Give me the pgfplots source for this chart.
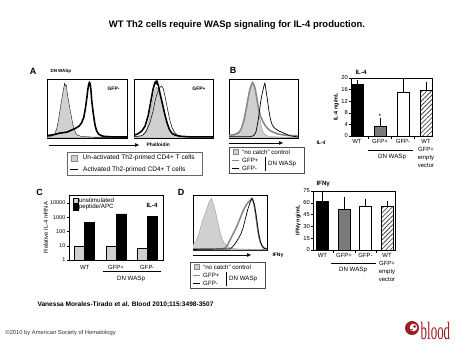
\documentclass[border=0pt]{standalone}
\usepackage{fontspec}
\setmainfont{Liberation Sans}
\newfontfamily\seriffont{Liberation Serif}
\usepackage{pgfplots}
\pgfplotsset{compat=1.18}
\usetikzlibrary{patterns,patterns.meta,arrows.meta}
\definecolor{hgray}{HTML}{D0D0D0}
\definecolor{lgray}{HTML}{8A8A8A}
\definecolor{bgray}{HTML}{7A7A7A}
\definecolor{bloodred}{HTML}{9E1B22}
\newcommand\fs[1]{\fontsize{#1}{#1}\selectfont}
\pgfplotsset{
 hist/.style={scale only axis, anchor=north west, xmin=0,xmax=100,ymin=0,ymax=100,
   xtick=\empty, ytick=\empty, axis line style={line width=0.6bp}, clip=true},
 fillh/.style={fill=hgray, draw=lgray, line width=0.3bp},
 barax/.style={scale only axis, anchor=north west, ybar, bar width=12bp,
   axis line style={line width=0.5bp}, tick style={black, line width=0.4bp},
   major tick length=2bp, minor tick length=2.5bp, tick align=outside,
   xtick pos=bottom, ytick pos=left, xtick={0,1,2,3}, minor xtick={0.5,1.5,2.5},
   major x tick style={draw=none},
   tick label style={font=\fs{5.8}}, yticklabel style={inner sep=1bp},
   xticklabel style={align=center, font=\fontsize{6}{7.9}\selectfont, inner sep=1.5bp},
   /pgf/number format/assume math mode=true, clip=false,
   ylabel style={font=\fs{5.5}\bfseries, yshift=-2bp}},
 ebar/.style={bar shift=0pt, draw=black, line width=0.5bp,
   error bars/y dir=plus, error bars/y explicit,
   error bars/error bar style={line width=0.5bp, black, solid},
   error bars/error mark options={line width=0.5bp, mark size=2.5bp, black, solid}},
 hatch/.style={pattern={Lines[angle=45, distance=3.2bp, line width=0.8bp]}, pattern color=black!70},
}
\newcommand\histlegend[2]{%
\begin{scope}[shift={(#1,#2)}]
 \draw[line width=0.4bp, black!70] (0,0) rectangle (75,-26);
 \filldraw[fill=hgray, draw=lgray, line width=0.3bp] (4,-2.5) rectangle (9,-7.5);
 \node[anchor=west, font=\fs{6.2}, inner sep=0] at (13,-5) {“no catch” control};
 \draw[lgray, line width=1.6bp] (3,-13.5) -- (10,-13.5);
 \node[anchor=west, font=\fs{6.2}, inner sep=0] at (13,-13.5) {GFP+};
 \draw[black, line width=0.6bp] (3,-21.5) -- (10,-21.5);
 \node[anchor=west, font=\fs{6.2}, inner sep=0] at (13,-21.5) {GFP-};
 \draw[line width=0.5bp] (36,-10) -- (36,-24);
 \node[anchor=west, font=\fs{6.2}, inner sep=0] at (39,-17) {DN WASp};
\end{scope}}
\begin{document}
\begin{tikzpicture}[x=1bp,y=1bp]
\useasboundingbox (0,0) rectangle (474,355);
% title
\node[font=\fs{9.5}\bfseries] at (237,330) {WT Th2 cells require WASp signaling for IL-4 production.};

% ---------- Panel A ----------
\node[font=\fs{9}\bfseries] at (33,284) {A};
\node[anchor=west, font=\fs{4.5}\bfseries] at (47,284) {DN WASp};
\begin{axis}[hist, at={(47bp,276bp)}, width=80bp, height=59bp]
\addplot[fillh, draw=black, line width=0.35bp] coordinates {(0,2)(5,3)(8,5)(10,8)(12,15)(14,28)(16,45)(18,62)(20,78)(21,85)(22,93)(23,88)(24,90)(25,80)(26,70)(28,55)(30,40)(32,25)(34,15)(36,8)(38,5)(42,3)(50,2)(60,1.5)(100,1.5)} \closedcycle;
\addplot[black, line width=1.6bp] coordinates {(0,4)(5,5)(10,6)(15,8)(20,9)(25,10)(30,13)(35,16)(40,20)(43,25)(46,35)(48,50)(50,70)(51,82)(52,90)(53,94)(54,92)(55,80)(56,62)(58,40)(60,22)(62,12)(65,6)(70,3)(80,2)(100,2)};
\node[anchor=north east, font=\fs{5}\bfseries] at (rel axis cs:0.95,0.93) {GFP-};
\end{axis}
\begin{axis}[hist, at={(134bp,276bp)}, width=79bp, height=59bp]
\addplot[fillh] coordinates {(0,2)(8,3)(12,6)(16,15)(20,35)(23,60)(26,80)(28,86)(30,84)(32,78)(35,62)(38,45)(41,30)(44,18)(47,10)(50,5)(55,3)(60,2)(100,1)} \closedcycle;
\addplot[black, line width=0.5bp] coordinates {(0,2)(10,4)(15,10)(20,25)(24,45)(27,65)(30,78)(33,86)(35,88)(37,84)(39,72)(42,52)(45,32)(48,18)(51,10)(55,5)(60,3)(70,2)(100,2)};
\addplot[black, line width=1.6bp] coordinates {(0,5)(3,6)(6,8)(10,12)(14,20)(18,38)(21,60)(24,82)(26,92)(27,95)(28,93)(29,96)(31,88)(33,75)(36,58)(39,40)(42,25)(45,14)(48,8)(52,5)(58,3)(70,2)(100,2)};
\node[anchor=north east, font=\fs{5}\bfseries] at (rel axis cs:0.95,0.93) {GFP+};
\end{axis}
\draw[line width=0.6bp, -{Triangle[length=4bp,width=3.5bp]}] (49,210) -- (139,210);
\node[anchor=west, font=\fs{4.9}\bfseries] at (143,210) {Phalloidin};
% legend A
\draw[line width=0.4bp, black!60] (67,203) rectangle (202,180);
\filldraw[fill=hgray, draw=lgray, line width=0.3bp] (71,200) rectangle (77,194);
\node[anchor=west, font=\fs{6.6}, inner sep=0] at (82.5,197) {Un-activated Th2-primed CD4+ T cells};
\draw[line width=1.6bp] (70,185.5) -- (78,185.5);
\node[anchor=west, font=\fs{6.6}, inner sep=0] at (83,185.5) {Activated Th2-primed CD4+ T cells};

% ---------- Panel B ----------
\node[font=\fs{9}\bfseries] at (233,285) {B};
\begin{axis}[hist, at={(229bp,276bp)}, width=69bp, height=59bp]
\addplot[fillh] coordinates {(0,3)(8,5)(14,8)(18,15)(22,30)(26,55)(29,75)(32,88)(34,93)(36,90)(38,82)(40,68)(42,52)(44,38)(46,25)(48,15)(50,9)(53,5)(57,3)(65,2)(100,1)} \closedcycle;
\addplot[lgray, line width=1.6bp] coordinates {(0,4)(8,6)(14,9)(18,16)(22,32)(26,56)(29,76)(32,89)(34,94)(36,91)(38,83)(40,70)(42,55)(44,44)(46,36)(49,28)(52,22)(56,16)(60,12)(64,10)(70,7)(80,5)(90,4)(100,4)};
\addplot[black, line width=0.7bp] coordinates {(0,2)(30,2)(36,4)(39,10)(42,28)(44,45)(46,62)(48,75)(50,85)(51,90)(52,93)(53,86)(54,78)(56,62)(58,45)(60,32)(62,24)(65,18)(68,15)(72,12)(76,10)(80,8)(84,6)(88,4)(92,3)(100,2)};
\end{axis}
\draw[line width=0.6bp, -{Triangle[length=4bp,width=3.5bp]}] (229,212) -- (283,212);
\node[anchor=west, font=\fs{5}\bfseries] at (313,212) {IL-4};
\histlegend{229}{208}

\begin{axis}[barax, at={(351bp,277bp)}, width=81bp, height=58bp,
  xmin=-0.26, xmax=3.26, ymin=0, ymax=20, ytick={0,4,...,20},
  xticklabels={WT,GFP+,GFP-,{WT\\GFP+\\empty\\vector}}, ylabel={IL-4 ng/mL}]
\addplot[fill=black, ebar] coordinates {(0,17.8) +- (0,0.7)};
\addplot[fill=bgray, ebar] coordinates {(1,3.5) +- (0,1.9)};
\addplot[fill=white, ebar] coordinates {(2,15) +- (0,4.3)};
\addplot[hatch, ebar] coordinates {(3,15.7) +- (0,2)};
\node[font=\fs{6.5}] at (axis cs:1,6.9) {*};
\end{axis}
\node[anchor=west, font=\fs{6.2}\bfseries] at (352,283) {IL-4};
\draw[line width=0.5bp] (368,204.5) -- (413,204.5);
\node[font=\fs{6.2}] at (392,198) {DN WASp};

% ---------- Panel C ----------
\node[font=\fs{9}\bfseries] at (39.5,163) {C};
\begin{axis}[scale only axis, anchor=north west, at={(69bp,160bp)}, width=94bp, height=65bp,
  ymode=log, ymin=1, ymax=36000, xmin=-0.5, xmax=2.5,
  ytick={1,10,100,1000,10000}, yticklabels={1,10,100,1000,10000}, yminorticks=false,
  xtick={0,1,2}, xticklabels={WT,GFP+,GFP-}, ybar, bar width=10bp,
  axis line style={line width=0.5bp}, tick style={black, line width=0.4bp},
  tick align=outside, ytick pos=left, xtick pos=bottom, major x tick style={draw=none},
  major tick length=2bp, tick label style={font=\fs{5.5}}, xticklabel style={font=\fs{6}},
  yticklabel style={inner sep=1.5bp},
  ylabel={Relative IL-4 mRNA}, ylabel style={font=\fs{5.8}, yshift=-3bp},
  area legend,
  legend image code/.code={\draw[#1, line width=0.4bp] (0bp,-2.6bp) rectangle (5bp,2.6bp);},
  legend style={at={(0.03,0.985)}, anchor=north west, draw=none, fill=none,
    font=\fs{6.2}, row sep=-1.5bp, inner sep=0.5bp, nodes={inner sep=1bp}},
  legend cell align=left, clip=false]
\addplot[fill=hgray, draw=black, line width=0.4bp, bar shift=-5bp] coordinates {(0,9)(1,9)(2,7)};
\addplot[fill=black, draw=black, bar shift=5bp] coordinates {(0,450)(1,1700)(2,1100)};
\legend{unstimulated, peptide/APC}
\end{axis}
\node[anchor=east, font=\fs{6.2}\bfseries] at (161,150) {IL-4};
\draw[line width=0.5bp] (103,84) -- (161,84);
\node[font=\fs{6.2}] at (131,76) {DN WASp};

% ---------- Panel D ----------
\node[font=\fs{9}\bfseries] at (181,163) {D};
\begin{axis}[hist, at={(193bp,160bp)}, width=74bp, height=55bp]
\addplot[fillh] coordinates {(0,10)(3,14)(6,22)(9,35)(12,50)(15,62)(18,72)(20,80)(22,88)(24,92)(25,94)(26,90)(28,82)(30,72)(32,60)(34,48)(36,36)(38,26)(40,18)(43,11)(46,7)(50,4)(55,3)(60,2)(100,1)} \closedcycle;
\addplot[lgray, line width=1.6bp] coordinates {(0,2)(40,2)(44,4)(47,10)(50,18)(53,26)(56,34)(59,42)(62,52)(65,62)(68,72)(71,80)(74,86)(77,90)(79,93)(81,90)(83,80)(85,62)(87,42)(89,25)(91,14)(94,6)(97,3)(100,2)};
\addplot[black, line width=0.7bp] coordinates {(0,1)(50,2)(53,5)(56,10)(59,16)(62,22)(65,30)(68,42)(71,58)(74,74)(77,86)(79,92)(80,94)(81,91)(83,82)(85,66)(87,46)(89,28)(91,16)(93,8)(96,3)(100,2)};
\end{axis}
\draw[line width=0.6bp, -{Triangle[length=4bp,width=3.5bp]}] (193,100) -- (251,100);
\node[anchor=west, font=\fs{5}\bfseries] at (269,100) {IFNγ};
\histlegend{190}{93}

\begin{axis}[barax, at={(313bp,164bp)}, width=82bp, height=59bp,
  xmin=-0.44, xmax=3.37, ymin=0, ymax=75, ytick={0,15,...,75},
  xticklabels={WT,GFP+,GFP-,{WT\\GFP+\\empty\\vector}}, ylabel={IFNγ ng/mL}]
\addplot[fill=black, ebar] coordinates {(0,62) +- (0,9.2)};
\addplot[fill=bgray, ebar] coordinates {(1,51.7) +- (0,13)};
\addplot[fill=white, ebar] coordinates {(2,55) +- (0,7)};
\addplot[hatch, ebar] coordinates {(3,55) +- (0,4.3)};
\end{axis}
\node[anchor=west, font=\fs{6.2}\bfseries] at (313,171) {IFNγ};
\draw[line width=0.5bp] (331,91.5) -- (376,91.5);
\node[font=\fs{6.2}] at (353,85.5) {DN WASp};

% ---------- footer ----------
\node[anchor=west, font=\fs{6.6}\bfseries] at (34,50) {Vanessa Morales-Tirado et al. Blood 2010;115:3498-3507};
\node[anchor=west, font=\fs{5.8}, text=black!80] at (2,22) {©2010 by American Society of Hematology};
\fill[bloodred] (412,27) circle (7);
\fill[white] (413.5,27.5) circle (3.8);
\fill[bloodred] (414.5,28.5) circle (1.5);
\fill[bloodred] (412,25.5) circle (0.9);
\node[anchor=base west, inner sep=0, text=bloodred] at (420.5,15.5) {\scalebox{0.52}[1]{\seriffont\fs{25}blood}};
\end{tikzpicture}
\end{document}
